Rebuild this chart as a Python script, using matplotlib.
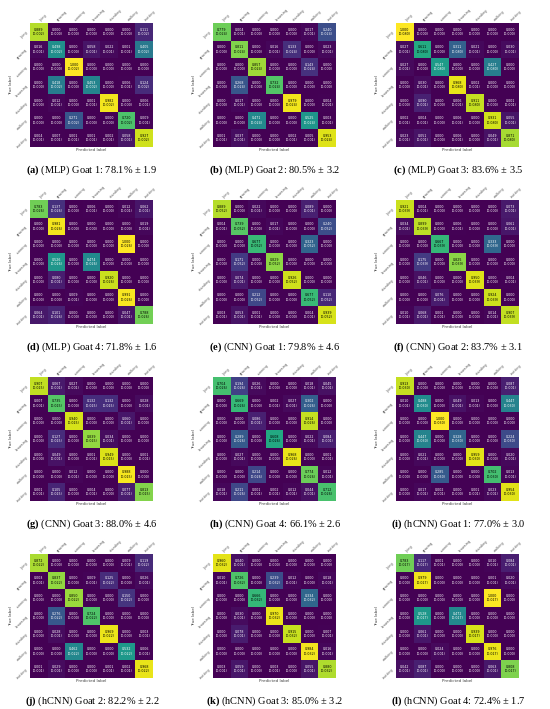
import numpy as np
import matplotlib.pyplot as plt

plt.rcParams['mathtext.fontset'] = 'custom'
plt.rcParams['mathtext.bf'] = 'Liberation Serif:bold'
plt.rcParams['mathtext.rm'] = 'Liberation Serif'

labels = ['lying', 'grazing', 'running', 'browsing', 'standing', 'walking', 'trotting']

titles = ['(MLP) Goat 1: 78.1% $\\pm$ 1.9', '(MLP) Goat 2: 80.5% $\\pm$ 3.2',
          '(MLP) Goat 3: 83.6% $\\pm$ 3.5', '(MLP) Goat 4: 71.8% $\\pm$ 1.6',
          '(CNN) Goat 1: 79.8% $\\pm$ 4.6', '(CNN) Goat 2: 83.7% $\\pm$ 3.1',
          '(CNN) Goat 3: 88.0% $\\pm$ 4.6', '(CNN) Goat 4: 66.1% $\\pm$ 2.6',
          '(hCNN) Goat 1: 77.0% $\\pm$ 3.0', '(hCNN) Goat 2: 82.2% $\\pm$ 2.2',
          '(hCNN) Goat 3: 85.0% $\\pm$ 3.2', '(hCNN) Goat 4: 72.4% $\\pm$ 1.7']

mlp_g1 = [[.889, 0, 0, 0, 0, 0, .111], [.016, .498, 0, .058, .022, .001, .405],
          [0, 0, 1.0, 0, 0, 0, 0], [0, .418, 0, .453, 0, .006, .124],
          [0, .012, 0, .001, .982, 0, .006], [0, 0, .271, 0, 0, .720, .009],
          [.004, .007, .001, .001, .002, .058, .927]]
mlp_g2 = [[.779, .004, 0, 0, 0, .017, .240], [0, .811, 0, .016, .133, 0, .023],
          [0, 0, .857, 0, 0, .143, 0], [0, .268, 0, .732, 0, 0, 0],
          [0, .017, 0, 0, .979, 0, .004], [0, 0, .471, 0, 0, .525, .003],
          [.001, .037, 0, 0, .002, .005, .953]]
mlp_g3 = [[1.0, 0, 0, 0, 0, 0, 0], [.027, .611, 0, .311, .021, 0, .030],
          [.027, 0, .547, 0, 0, .427, 0], [0, .030, 0, .968, .002, 0, 0],
          [0, .090, 0, .006, .911, 0, .001], [.002, .004, 0, .006, 0, .931, .055],
          [.023, .051, 0, .006, 0, .049, .871]]
mlp_g4 = [[.783, .137, 0, .006, 0, .012, .062], [0, .981, 0, 0, 0, 0, .019],
          [0, 0, 0, 0, 0, 1.0, 0], [0, .526, 0, .474, 0, 0, 0],
          [0, .080, 0, 0, .920, 0, 0], [0, 0, .009, 0, 0, .991, 0],
          [.064, .101, 0, 0, 0, .047, .788]]
cnn_g1 = [[.889, 0, .022, 0, 0, .089, 0], [.004, .739, 0, .017, 0, 0, .240],
          [0, 0, .677, 0, 0, .323, 0], [0, .171, 0, .829, 0, 0, 0],
          [0, .074, 0, 0, .926, 0, 0], [0, 0, .212, 0, 0, .677, .110],
          [.003, .053, .001, 0, 0, .004, .939]]
cnn_g2 = [[.921, .004, 0, 0, 0, 0, .073], [.034, .899, 0, .006, 0, 0, .061],
          [0, 0, .667, 0, 0, .333, 0], [0, .175, 0, .825, 0, 0, 0],
          [0, .046, 0, 0, .950, 0, .004], [0, 0, .076, 0, 0, .924, 0],
          [.010, .068, .001, 0, 0, .014, .907]]
cnn_g3 = [[.907, .067, .027, 0, 0, 0, 0], [.007, .735, 0, .132, .132, 0, .028],
          [0, 0, .940, 0, 0, .060, 0], [0, .127, 0, .839, .034, 0, 0],
          [0, .049, 0, .001, .949, 0, .001], [0, 0, .012, 0, 0, .988, 0],
          [.001, .105, 0, .004, 0, .077, .813]]
cnn_g4 = [[.704, .194, .026, 0, 0, .018, .045], [0, .669, 0, .002, .027, .302, 0],
          [0, 0, .086, 0, 0, .914, 0], [0, .289, 0, .608, 0, .022, .084],
          [0, .027, 0, 0, .968, 0, .001], [0, 0, .214, 0, 0, .774, .012],
          [.018, .211, .001, .002, .012, .044, .712]]
hcnn_g1 = [[.913, 0, 0, 0, 0, 0, .087], [.010, .488, 0, .049, .013, 0, .447],
           [0, 0, 1.0, 0, 0, 0, 0], [0, .447, 0, .328, 0, 0, .224],
           [0, .021, 0, 0, .959, 0, .020], [0, 0, .285, 0, 0, .702, .013],
           [0, .017, .002, 0, .001, .023, .954]]
hcnn_g2 = [[.872, 0, 0, 0, 0, .009, .119], [.003, .837, 0, .009, .125, 0, .026],
           [0, 0, .850, 0, 0, .150, 0], [0, .276, 0, .724, 0, 0, 0],
           [0, .028, 0, 0, .969, 0, .003], [0, 0, .462, 0, 0, .532, .006],
           [.001, .029, 0, 0, .001, .002, .968]]
hcnn_g3 = [[.960, .040, 0, 0, 0, 0, 0], [.010, .726, 0, .239, .012, 0, .018],
           [0, 0, .666, 0, 0, .334, 0], [0, .030, 0, .970, 0, 0, 0],
           [0, .078, 0, 0, .915, 0, .007], [0, 0, 0, 0, 0, .984, .016],
           [.003, .059, 0, .003, 0, .055, .880]]
hcnn_g4 = [[.783, .117, .001, 0, 0, .010, .084], [0, .979, 0, 0, 0, .001, .020],
           [0, 0, 0, 0, 0, 1.0, 0], [0, .528, 0, .472, 0, 0, 0],
           [0, .061, 0, 0, .939, 0, 0], [0, 0, .024, 0, 0, .976, 0],
           [.042, .087, 0, 0, 0, .063, .808]]

# spread per cell (rough reading: small on diagonals / big confusions)
std_levels = [0.002, 0.024, 0.080, 0.026, 0.052, 0.039, 0.015, 0.026,
              0.030, 0.022, 0.032, 0.017]

matrices = [mlp_g1, mlp_g2, mlp_g3, mlp_g4, cnn_g1, cnn_g2, cnn_g3, cnn_g4,
            hcnn_g1, hcnn_g2, hcnn_g3, hcnn_g4]

W, H = 550, 709
fig = plt.figure(figsize=(5.5, 7.09), dpi=100)
letters = 'abcdefghijkl'

for i, (m, t) in enumerate(zip(matrices, titles)):
    m = np.array(m)
    r, c = divmod(i, 3)
    left = 30 + c * 183
    top = 23 + r * 177
    ax = fig.add_axes([left / W, 1 - (top + 124) / H, 123 / W, 124 / H])
    ax.imshow(m, cmap='viridis', vmin=0, vmax=1, aspect='auto')
    for a in range(7):
        for b in range(7):
            v = m[a, b]
            s = std_levels[i] if v > 0.1 else (0.001 if v > 0 else 0.0)
            col = 'black' if v > 0.6 else 'white'
            ax.text(b, a, f'{v:.3f}\n({s:.3f})', ha='center', va='center',
                    fontsize=2.3, color=col, linespacing=1.1)
    ax.set_xticks(range(7))
    ax.set_yticks(range(7))
    ax.set_xticklabels(labels, rotation=45, ha='left', fontsize=2.5)
    ax.set_yticklabels(labels, rotation=45, fontsize=2.5)
    ax.xaxis.tick_top()
    ax.tick_params(length=0, pad=1, colors='#555555')
    ax.set_xlabel('Predicted label', fontsize=3, color='#444444', labelpad=1)
    ax.set_ylabel('True label', fontsize=3, color='#444444', labelpad=1)
    for sp in ax.spines.values():
        sp.set_visible(False)
    fig.text((left + 62) / W, 1 - (top + 147) / H,
             f'$\\mathbf{{({letters[i]})}}$ ' + t,
             ha='center', va='center', fontsize=7.5, family='Liberation Serif')

fig.savefig('out.png', dpi=100, facecolor='white')
